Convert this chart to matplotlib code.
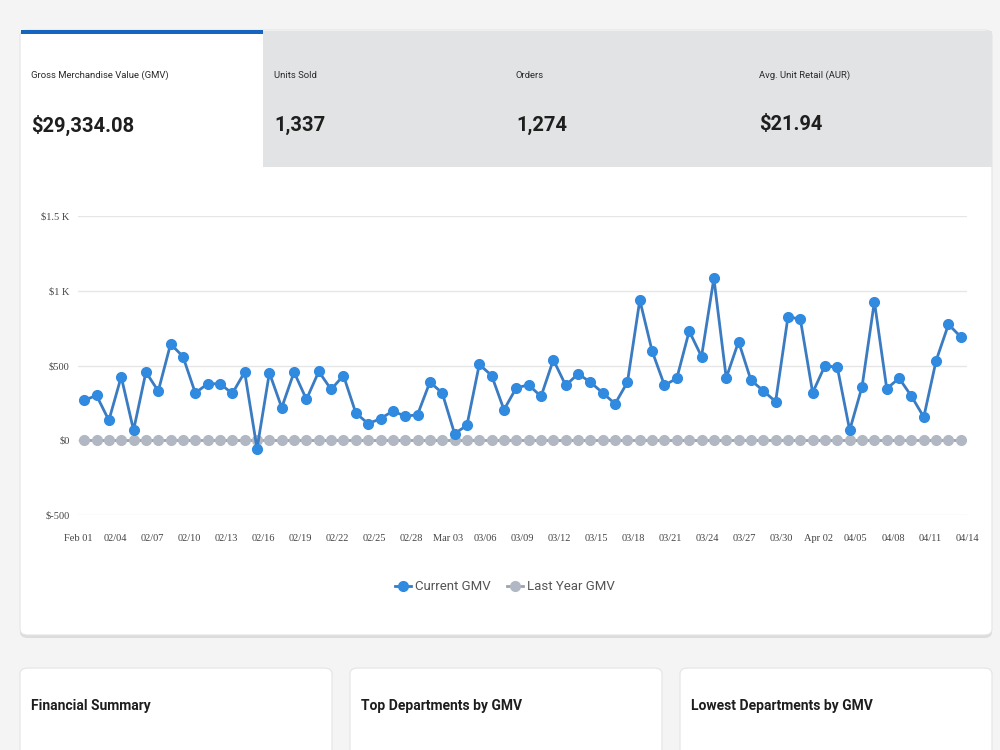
import numpy as np
import matplotlib
matplotlib.use("Agg")
import matplotlib.pyplot as plt
from matplotlib.patches import FancyBboxPatch, Rectangle

# daily GMV, Feb 01 .. Apr 13 (one value per day)
current_gmv = [267, 300, 133, 425, 67, 456, 329, 644, 560, 316, 378, 378, 313,
               456, -56, 451, 218, 456, 273, 460, 340, 433, 182, 111, 144,
               196, 160, 171, 389, 316, 44, 100, 507, 433, 204, 351, 370,
               293, 538, 367, 444, 389, 316, 244, 389, 938, 596, 367, 415,
               730, 560, 1084, 417, 660, 402, 331, 258, 825, 811, 318, 500, 487,
               67, 358, 928, 345, 415, 295, 155, 533, 775, 691]
last_year_gmv = [0, 0, 0, 0, 0, 0, 0, 0, 0, 0, 0, 0, 0, 0, 0, 0, 0, 0,
                 0, 0, 0, 0, 0, 0, 0, 0, 0, 0, 0, 0, 0, 0, 0, 0, 0, 0,
                 0, 0, 0, 0, 0, 0, 0, 0, 0, 0, 0, 0, 0, 0, 0, 0, 0, 0,
                 0, 0, 0, 0, 0, 0, 0, 0, 0, 0, 0, 0, 0, 0, 0, 0, 0, 0]

xtick_labels = ['Feb 01', '02/04', '02/07', '02/10', '02/13', '02/16', '02/19',
                '02/22', '02/25', '02/28', 'Mar 03', '03/06', '03/09', '03/12',
                '03/15', '03/18', '03/21', '03/24', '03/27', '03/30', 'Apr 02',
                '04/05', '04/08', '04/11', '04/14']
ytick_values = [-500, 0, 500, 1000, 1500]
ytick_labels = ['$-500', '$0', '$500', '$1 K', '$1.5 K']

kpi_names = ['Gross Merchandise Value (GMV)', 'Units Sold', 'Orders', 'Avg. Unit Retail (AUR)']
kpi_values = ['$29,334.08', '1,337', '1,274', '$21.94']
panel_titles = ['Financial Summary', 'Top Departments by GMV', 'Lowest Departments by GMV']

SANS = ['Roboto', 'DejaVu Sans']
SERIF = ['Liberation Serif', 'DejaVu Serif']

W, H = 1000, 750
fig = plt.figure(figsize=(10, 7.5), dpi=100)
fig.patch.set_facecolor('#f4f4f4')


def fx(x):
    return x / W


def fy(y):
    return 1 - y / H


def card(x0, y0, x1, y1, color='white', r=8, z=0):
    # shadow then card, pixel coords from top-left
    sh = FancyBboxPatch((fx(x0), fy(y1 + 3)), fx(x1 - x0), (y1 - y0) / H,
                        boxstyle="round,pad=0,rounding_size=%f" % (r / W),
                        transform=fig.transFigure, facecolor='#dcdcdc',
                        edgecolor='none', zorder=z)
    fig.patches.append(sh)
    c = FancyBboxPatch((fx(x0), fy(y1)), fx(x1 - x0), (y1 - y0) / H,
                       boxstyle="round,pad=0,rounding_size=%f" % (r / W),
                       transform=fig.transFigure, facecolor=color,
                       edgecolor='#e4e4e4', lw=0.8, zorder=z + 0.1)
    fig.patches.append(c)


# main card
card(20, 30, 992, 635)
# grey tab strip
fig.patches.append(Rectangle((fx(263), fy(167)), fx(992 - 263), (167 - 31) / H,
                             transform=fig.transFigure, facecolor='#e2e3e4',
                             edgecolor='none', zorder=0.5))
# active tab top border
fig.patches.append(Rectangle((fx(21), fy(34)), fx(263 - 21), 3.5 / H,
                             transform=fig.transFigure, facecolor='#1565c0',
                             edgecolor='none', zorder=0.6))

tab_x = [31, 274, 516, 759]
for x, name, val in zip(tab_x, kpi_names, kpi_values):
    fig.text(fx(x), fy(75), name, family=SANS, fontsize=6.8, color='#2a2a2a',
             va='center', ha='left')
    fig.text(fx(x), fy(125), val, family=SANS, fontsize=14.5, fontweight='bold',
             color='#1e1e1e', va='center', ha='left')

# bottom cards
for x0, title in zip([20, 350, 680], panel_titles):
    card(x0, 668, x0 + 312, 770)
    fig.text(fx(x0 + 11), fy(706), title, family=SANS, fontsize=10,
             fontweight='bold', color='#1e1e1e', va='center', ha='left')

# chart
ax = fig.add_axes([fx(78), fy(515), fx(967 - 78), (515 - 216) / H], zorder=5)
ax.set_facecolor('none')
days = np.arange(len(current_gmv)) + 0.5
ax.plot(days, last_year_gmv, color='#9ea4ad', lw=2, marker='o', ms=7,
        mfc='#b1b8c3', mec='#b1b8c3', label='Last Year GMV', zorder=3)
ax.plot(days, current_gmv, color='#3a7bc2', lw=2, marker='o', ms=7,
        mfc='#2f8ae0', mec='#2f8ae0', label='Current GMV', zorder=4)

ax.set_xlim(0, len(current_gmv))
ax.set_ylim(-500, 1500)
ax.set_xticks(np.arange(0, 3 * len(xtick_labels), 3))
ax.set_xticklabels(xtick_labels, family=SERIF, fontsize=7.5, color='#444444')
ax.set_yticks(ytick_values)
ax.set_yticklabels(ytick_labels, family=SERIF, fontsize=7.5, color='#444444')
ax.tick_params(length=0, axis='x', pad=14)
ax.tick_params(length=0, axis='y', pad=6)
ax.grid(axis='y', color='#e6e6e6', lw=1)
ax.set_axisbelow(True)
for s in ax.spines.values():
    s.set_visible(False)

handles, labels = ax.get_legend_handles_labels()
leg = fig.legend(handles[::-1], labels[::-1], loc='center',
                 bbox_to_anchor=(fx(505), fy(587)), ncol=2, frameon=False,
                 prop={'family': SANS, 'size': 9.5}, handlelength=1.2,
                 columnspacing=1.2, handletextpad=0.3)
leg.set_zorder(6)
for t in leg.get_texts():
    t.set_color('#555555')

plt.savefig('out.png', dpi=100, facecolor=fig.get_facecolor())
